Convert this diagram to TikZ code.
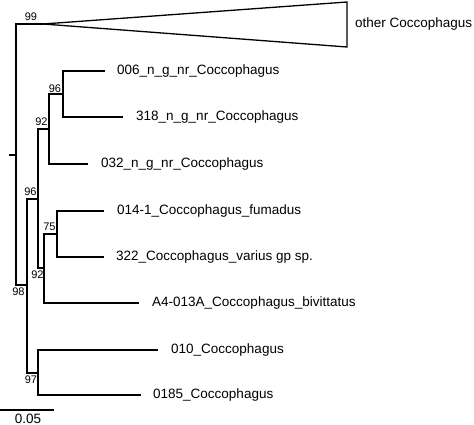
\documentclass[tikz,border=0pt]{standalone}
\usepackage{fontspec}
\setmainfont{Liberation Sans}
\usetikzlibrary{positioning}

\begin{document}
\begin{tikzpicture}[x=1pt,y=-1pt,
    branch/.style={line width=1.3pt,line cap=rect},
    leaf/.style={anchor=west,inner sep=0pt,font=\fontsize{13.5}{16}\selectfont},
    boot/.style={inner sep=0pt,font=\fontsize{11}{13}\selectfont}]
    \useasboundingbox (0,0) rectangle (474,425);

    % Internal nodes
    \coordinate (stub) at (10,155);
    \coordinate (root) at (16,155);
    \coordinate (apex) at (43,24);
    \coordinate (n98) at (27,285);
    \coordinate (n96a) at (38,199);
    \coordinate (n92a) at (49,129);
    \coordinate (n96b) at (63,94);
    \coordinate (n92b) at (44,268);
    \coordinate (n75) at (57,234);
    \coordinate (n97) at (38,373);

    % Tips
    \coordinate (t006) at (104,71);
    \coordinate (t318) at (122,117);
    \coordinate (t032) at (87,164);
    \coordinate (t014) at (103,211);
    \coordinate (t322) at (103,257);
    \coordinate (tA4) at (138,303);
    \coordinate (t010) at (157,350);
    \coordinate (t0185) at (140,395);

    % Collapsed clade
    \coordinate (triTop) at (347,2);
    \coordinate (triBot) at (347,47);
    \coordinate (triMid) at (347,24);
    \draw[branch,line join=miter] (apex) -- (triTop) -- (triBot) -- cycle;

    % Branches
    \draw[branch] (stub) -- (root);
    \draw[branch] (root) |- (apex);
    \draw[branch] (root) |- (n98);
    \draw[branch] (n98) |- (n96a);
    \draw[branch] (n98) |- (n97);
    \draw[branch] (n96a) |- (n92a);
    \draw[branch] (n96a) |- (n92b);
    \draw[branch] (n92a) |- (n96b);
    \draw[branch] (n92a) |- (t032);
    \draw[branch] (n96b) |- (t006);
    \draw[branch] (n96b) |- (t318);
    \draw[branch] (n92b) |- (n75);
    \draw[branch] (n92b) |- (tA4);
    \draw[branch] (n75) |- (t014);
    \draw[branch] (n75) |- (t322);
    \draw[branch] (n97) |- (t010);
    \draw[branch] (n97) |- (t0185);

    % Taxon names
    \node[leaf,right=8pt of triMid] (lOther) {other Coccophagus};
    \node[leaf,right=13pt of t006] (l006) {006\_n\_g\_nr\_Coccophagus};
    \node[leaf,right=14pt of t318] (l318) {318\_n\_g\_nr\_Coccophagus};
    \node[leaf,right=14pt of t032] (l032) {032\_n\_g\_nr\_Coccophagus};
    \node[leaf,right=14pt of t014] (l014) {014-1\_Coccophagus\_fumadus};
    \node[leaf,right=13pt of t322] (l322) {322\_Coccophagus\_varius gp sp.};
    \node[leaf,right=14pt of tA4] (lA4) {A4-013A\_Coccophagus\_bivittatus};
    \node[leaf,right=14pt of t010] (l010) {010\_Coccophagus};
    \node[leaf,right=13pt of t0185] (l0185) {0185\_Coccophagus};

    % Bootstrap values
    \node[boot] (b99) at (31,17) {99};
    \node[boot] (b98) at (18.5,292) {98};
    \node[boot] (b96a) at (30.5,192) {96};
    \node[boot] (b92a) at (41.5,122) {92};
    \node[boot] (b96b) at (55,89) {96};
    \node[boot] (b92b) at (37.5,275) {92};
    \node[boot] (b75) at (49.5,227) {75};
    \node[boot] (b97) at (31,380) {97};

    % Scale bar
    \coordinate (sbL) at (0,410);
    \coordinate (sbR) at (53,410);
    \draw[branch] (sbL) -- (sbR);
    \node[boot,font=\fontsize{13.5}{16}\selectfont] (sbLabel) at (28,419) {0.05};
\end{tikzpicture}
\end{document}
